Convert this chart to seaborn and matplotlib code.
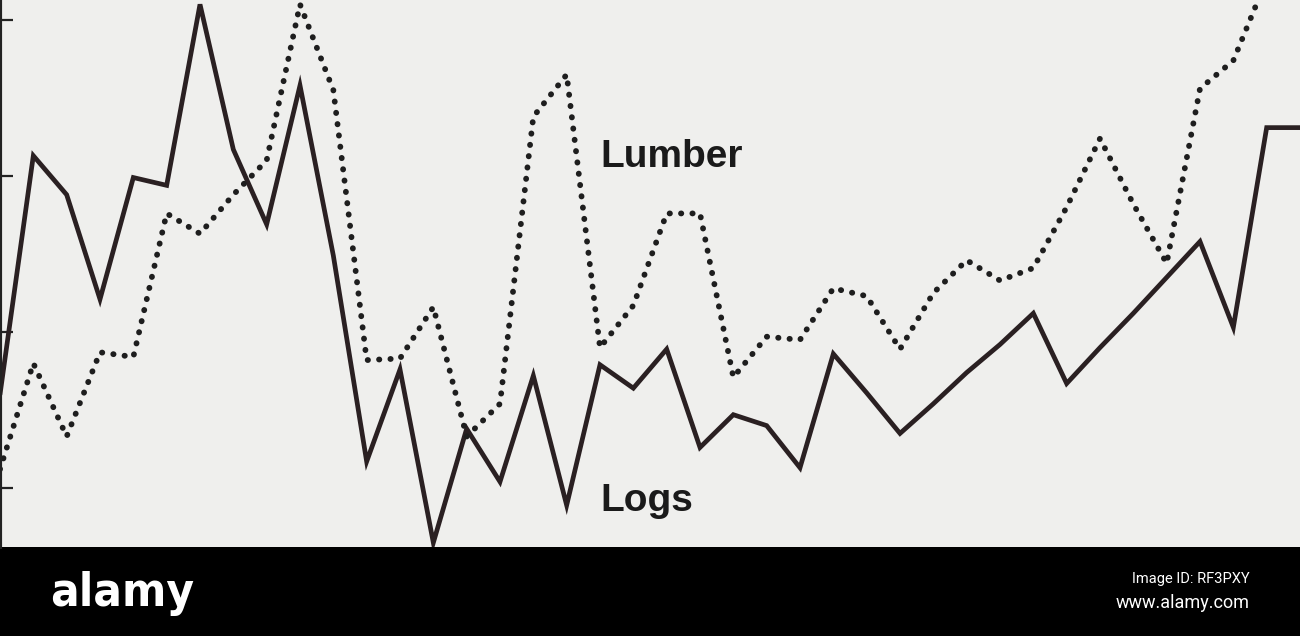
import pandas as pd
import matplotlib.pyplot as plt
import seaborn as sns
import numpy as np
from matplotlib import font_manager

# Price index (annual values)
years = list(range(1950, 1990))
logs = [1.60, 3.13, 2.88, 2.21, 2.99, 2.94, 4.10, 3.17, 2.69, 3.58,
        2.49, 1.17, 1.76, 0.65, 1.38, 1.04, 1.72, 0.89, 1.79, 1.64,
        1.89, 1.26, 1.47, 1.40, 1.13, 1.86, 1.61, 1.35, 1.54, 1.74,
        1.92, 2.12, 1.67, 1.90, 2.12, 2.35, 2.58, 2.03, 3.31, 3.31]
lumber = [1.12, 1.80, 1.33, 1.87, 1.84, 2.76, 2.63, 2.88, 3.10, 4.10,
          3.55, 1.82, 1.83, 2.16, 1.33, 1.54, 3.38, 3.65, 1.90, 2.17,
          2.76, 2.76, 1.71, 1.97, 1.95, 2.28, 2.23, 1.89, 2.25, 2.46,
          2.33, 2.41, 2.80, 3.24, 2.82, 2.44, 3.56, 3.74, 4.26, 4.64]
yticks = [1, 2, 3, 4]

df = pd.DataFrame({"year": years, "Logs": logs, "Lumber": lumber})

sns.set_theme(style="white")
plt.rcParams["font.family"] = ["Liberation Sans", "DejaVu Sans"]

# narrow face for the footer, if one is installed
narrow_file = None
for f in font_manager.fontManager.ttflist:
    name = f.fname.lower()
    if ("narrow" in name or "condensed" in name) and "bold" in name \
            and "italic" not in name and "oblique" not in name:
        narrow_file = f.fname
        break
if narrow_file:
    logo_font = font_manager.FontProperties(fname=narrow_file, size=34)
else:
    logo_font = font_manager.FontProperties(family="Roboto", weight="bold",
                                            size=27)

fig = plt.figure(figsize=(13, 6.36), dpi=100)
fig.patch.set_facecolor("black")
ax = fig.add_axes([0, 89 / 636, 1, 547 / 636])
ax.set_facecolor("#efefed")

sns.lineplot(data=df, x="year", y="Logs", ax=ax, color="#2a2022",
             linewidth=3.4, solid_joinstyle="miter")
sns.lineplot(data=df, x="year", y="Lumber", ax=ax, color="#1e1e1e",
             linewidth=4.2, linestyle=(0, (0.05, 1.9)),
             dash_capstyle="round")

ax.set_xlim(years[0], years[-1])
ax.set_ylim(0.622, 4.128)
ax.set_yticks(yticks)
ax.set_yticklabels([])
ax.set_xticks([])
ax.tick_params(axis="y", direction="in", length=9, width=1.6,
               color="#222222", left=True, pad=0)
ax.set_xlabel("")
ax.set_ylabel("")
for side in ["top", "right", "bottom"]:
    ax.spines[side].set_visible(False)
ax.spines["left"].set_linewidth(3)
ax.spines["left"].set_color("#222222")

ax.text(1968.0, 3.12, "Lumber", fontsize=28, fontweight="bold",
        color="#1a1a1a", va="center", ha="left")
ax.text(1968.0, 0.92, "Logs", fontsize=28, fontweight="bold",
        color="#1a1a1a", va="center", ha="left")

# footer band
fig.text(50 / 1300, 1 - 593 / 636, "alamy", fontproperties=logo_font,
         color="white", va="center", ha="left")
fig.text(1250 / 1300, 1 - 579 / 636, "Image ID: RF3PXY", family="Roboto",
         fontsize=10.5, color="white", va="center", ha="right")
fig.text(1250 / 1300, 1 - 603 / 636, "www.alamy.com", family="Roboto",
         fontsize=13, color="white", va="center", ha="right")

plt.savefig("out.png", dpi=100, facecolor=fig.get_facecolor())
